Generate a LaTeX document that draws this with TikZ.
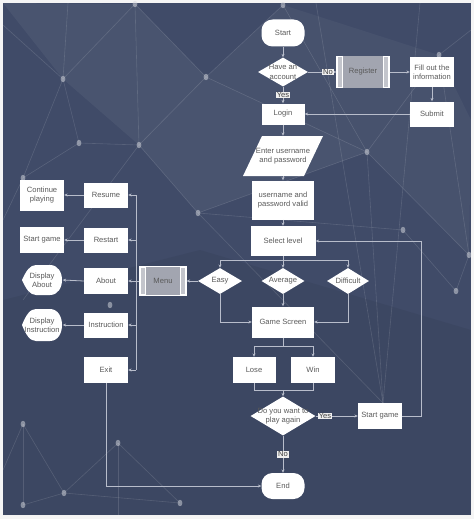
\documentclass[tikz,border=0pt]{standalone}
\usepackage{fontspec}
\setmainfont{Liberation Sans}
\usetikzlibrary{shapes.geometric,arrows.meta,calc}
\definecolor{bgc}{HTML}{404B68}
\definecolor{linec}{HTML}{B8BDCB}
\definecolor{txtc}{HTML}{5A5A5A}
\definecolor{pgray}{HTML}{A2A5B0}
\definecolor{pband}{HTML}{C3C5CC}
\begin{document}
\begin{tikzpicture}[x=1pt,y=-1pt,
  every node/.style={font=\fontsize{7.6}{9.2}\selectfont, text=txtc, align=center},
  box/.style={rectangle, fill=white, inner sep=0pt},
  term/.style={rectangle, rounded corners=11pt, fill=white, inner sep=0pt},
  dia/.style={diamond, fill=white, inner sep=0pt},
  proc/.style={rectangle, fill=pband, draw=white, line width=1.2pt, inner sep=0pt},
  conn/.style={draw=linec, line width=0.8pt},
  arr/.style={conn, -{Stealth[length=3.4pt,width=3pt]}},
  lbl/.style={fill=white!88!gray, inner sep=0.7pt, text=black!75, font=\fontsize{7.6}{8.5}\selectfont},
  net/.style={draw=white, opacity=0.13, line width=0.6pt},
  dot/.style={fill=white!80!bgc, opacity=0.5}
]
% background
\fill[white!92!gray] (0,0) rectangle (474,519);
\fill[bgc] (3,3) rectangle (471,515);
\useasboundingbox (0,0) rectangle (474,519);
% lighter facets
\fill[white, opacity=0.05] (3,3) -- (135,4) -- (206,77) -- (139,145) -- (63,79) -- cycle;
\fill[white, opacity=0.04] (206,77) -- (283,5) -- (439,55) -- (367,152) -- cycle;
\fill[white, opacity=0.05] (139,145) -- (206,77) -- (367,152) -- (198,213) -- cycle;
\fill[white, opacity=0.04] (367,152) -- (439,55) -- (471,120) -- (469,255) -- cycle;
\fill[black, opacity=0.05] (3,300) -- (200,250) -- (471,330) -- (471,515) -- (3,515) -- cycle;
% network lines
\draw[net] (3,25) -- (63,79);
\draw[net] (68,3) -- (63,79);
\draw[net] (135,4) -- (63,79);
\draw[net] (135,4) -- (206,77);
\draw[net] (135,4) -- (139,145);
\draw[net] (206,77) -- (139,145);
\draw[net] (63,79) -- (79,143);
\draw[net] (79,143) -- (139,145);
\draw[net] (79,143) -- (23,178);
\draw[net] (63,79) -- (23,178);
\draw[net] (139,145) -- (198,213);
\draw[net] (206,77) -- (283,5);
\draw[net] (206,77) -- (367,152);
\draw[net] (283,5) -- (367,152);
\draw[net] (439,55) -- (367,152);
\draw[net] (439,55) -- (471,30);
\draw[net] (439,55) -- (469,255);
\draw[net] (367,152) -- (198,213);
\draw[net] (367,152) -- (469,255);
\draw[net] (198,213) -- (403,230);
\draw[net] (469,255) -- (456,291);
\draw[net] (403,230) -- (456,291);
\draw[net] (367,152) -- (383,403);
\draw[net] (316,3) -- (383,403);
\draw[net] (420,3) -- (383,403);
\draw[net] (198,213) -- (383,403);
\draw[net] (139,145) -- (23,300);
\draw[net] (23,178) -- (3,220);
\draw[net] (23,424) -- (64,493);
\draw[net] (23,424) -- (23,505);
\draw[net] (23,424) -- (3,470);
\draw[net] (64,493) -- (118,443);
\draw[net] (118,443) -- (180,503);
\draw[net] (23,505) -- (64,493);
\draw[net] (64,493) -- (180,503);
\draw[net] (118,443) -- (118,515);
% dots
\foreach \p in {(135,4),(63,79),(206,77),(79,143),(139,145),(23,178),(283,5),(439,55),(367,152),(198,213),(403,230),(469,255),(456,291),(110,305),(23,424),(118,443),(64,493),(23,505),(180,503)}
  \fill[dot] \p ellipse (2.4pt and 3.2pt);

% ---------- nodes ----------
\node[term, minimum width=43pt, minimum height=27pt] (start) at (283,33) {Start};
\node[dia, minimum width=50pt, minimum height=29pt] (acc) at (283,72) {};
\node at (acc) {Have an\\account};
\node[proc, minimum width=52pt, minimum height=31pt] (reg) at (363,72) {};
\fill[pgray] ([xshift=6pt,yshift=-0.6pt]reg.north west) rectangle ([xshift=-6pt,yshift=0.6pt]reg.south east);
\draw[white, line width=1.2pt] ([xshift=6pt]reg.north west) -- ([xshift=6pt]reg.south west)
  ([xshift=-6pt]reg.north east) -- ([xshift=-6pt]reg.south east);
\node at (reg) {Register};
\node[box, minimum width=44pt, minimum height=30pt] (fill) at (432,72) {Fill out the\\information};
\node[box, minimum width=44pt, minimum height=25pt] (submit) at (432,114) {Submit};
\node[box, minimum width=43pt, minimum height=21pt] (login) at (283,114) {Login};
\fill[white] (262,136) -- (323,136) -- (304,176) -- (243,176) -- cycle;
\node[minimum width=60pt, minimum height=40pt, inner sep=0pt] (enter) at (283,156) {Enter username\\and password};
\node[box, minimum width=62pt, minimum height=39pt] (valid) at (283,200) {username and\\password valid};
\node[box, minimum width=65pt, minimum height=30pt] (select) at (283,241) {Select level};
\node[dia, minimum width=44pt, minimum height=26pt] (easy) at (220,281) {};
\node at (easy) {Easy};
\node[dia, minimum width=43pt, minimum height=26pt] (avg) at (283,281) {};
\node at (avg) {Average};
\node[dia, minimum width=42pt, minimum height=26pt] (diff) at (348,281) {};
\node at (diff) {Difficult};
\node[box, minimum width=62pt, minimum height=31pt] (game) at (283,322) {Game Screen};
\node[box, minimum width=43pt, minimum height=26pt] (lose) at (254,370) {Lose};
\node[box, minimum width=44pt, minimum height=26pt] (win) at (313,370) {Win};
\node[dia, minimum width=65pt, minimum height=39pt] (again) at (283,416) {};
\node at (again) {Do you want to\\play again};
\node[box, minimum width=44pt, minimum height=26pt] (sg) at (380,416) {Start game};
\node[term, minimum width=43pt, minimum height=26pt] (end) at (283,486) {End};

\node[proc, minimum width=46pt, minimum height=28pt] (menu) at (163,281) {};
\fill[pgray] ([xshift=6pt,yshift=-0.6pt]menu.north west) rectangle ([xshift=-6pt,yshift=0.6pt]menu.south east);
\draw[white, line width=1.2pt] ([xshift=6pt]menu.north west) -- ([xshift=6pt]menu.south west)
  ([xshift=-6pt]menu.north east) -- ([xshift=-6pt]menu.south east);
\node at (menu) {Menu};

\node[box, minimum width=44pt, minimum height=25pt] (resume) at (106,195) {Resume};
\node[box, minimum width=44pt, minimum height=25pt] (restart) at (106,240) {Restart};
\node[box, minimum width=44pt, minimum height=26pt] (about) at (106,281) {About};
\node[box, minimum width=44pt, minimum height=25pt] (instr) at (106,325) {Instruction};
\node[box, minimum width=44pt, minimum height=26pt] (exit) at (106,370) {Exit};

\node[box, minimum width=44pt, minimum height=31pt] (cont) at (42,195) {Continue\\playing};
\node[box, minimum width=44pt, minimum height=26pt] (sg2) at (42,240) {Start game};
% display shapes
\fill[white] (22,280) .. controls (26,271) and (30,265) .. (36,265) -- (50,265)
  .. controls (66,265) and (66,295) .. (50,295) -- (36,295)
  .. controls (30,295) and (26,289) .. (22,280) -- cycle;
\node[inner sep=0pt, minimum width=41pt, minimum height=30pt] (dabout) at (42,280) {Display\\About};
\fill[white] (22,325) .. controls (26,315) and (30,309) .. (36,309) -- (50,309)
  .. controls (66,309) and (66,341) .. (50,341) -- (36,341)
  .. controls (30,341) and (26,335) .. (22,325) -- cycle;
\node[inner sep=0pt, minimum width=41pt, minimum height=32pt] (dinstr) at (42,325) {Display\\Instruction};

% ---------- connectors ----------
\draw[arr] (start) -- (acc);
\draw[arr] (acc.east) -- (reg.west) node[lbl, pos=0.7] {No};
\draw[arr] (acc.south) -- (login.north) node[lbl, pos=0.5] {Yes};
\draw[arr] (reg) -- (fill);
\draw[arr] (fill) -- (submit);
\draw[arr] (submit) -- (login);
\draw[arr] (login) -- (enter.north);
\draw[arr] (enter.south) -- (valid);
\draw[arr] (valid) -- (select);
\coordinate (split) at (283,260);
\draw[conn] (select.south) -- (split);
\draw[arr] (split) -| (easy.north);
\draw[arr] (split) -- (avg.north);
\draw[arr] (split) -| (diff.north);
\draw[arr] (easy.west) -- (menu.east);
\draw[arr] (easy.south) |- (game.west);
\draw[arr] (avg) -- (game);
\draw[arr] (diff.south) |- (game.east);
\coordinate (split2) at (283,346);
\draw[conn] (game.south) -- (split2);
\draw[arr] (split2) -| (lose.north);
\draw[arr] (split2) -| (win.north);
\coordinate (merge) at (283,390);
\draw[conn] (lose.south) |- (merge);
\draw[conn] (win.south) |- (merge);
\draw[arr] (merge) -- (again.north);
\draw[arr] (again.east) -- (sg.west) node[lbl, pos=0.22] {Yes};
\draw[arr] (again.south) -- (end.north) node[lbl, pos=0.5] {No};
\coordinate (rt) at (421,416);
\draw[arr] (sg.east) -- (rt) |- (select.east);
% menu bus
\coordinate (bus) at (136,281);
\coordinate (bustop) at (136,195);
\coordinate (busbot) at (136,370);
\draw[conn] (menu.west) -- (bus);
\draw[conn] (bustop) -- (busbot);
\draw[arr] (bustop) -- (resume.east);
\draw[arr] (136,240) -- (restart.east);
\draw[arr] (bus) -- (about.east);
\draw[arr] (136,325) -- (instr.east);
\draw[arr] (busbot) -- (exit.east);
\draw[arr] (resume) -- (cont);
\draw[arr] (restart) -- (sg2);
\draw[arr] (about.west) -- (dabout.east);
\draw[arr] (instr.west) -- (dinstr.east);
\draw[arr] (exit.south) |- (end.west);
\end{tikzpicture}
\end{document}
